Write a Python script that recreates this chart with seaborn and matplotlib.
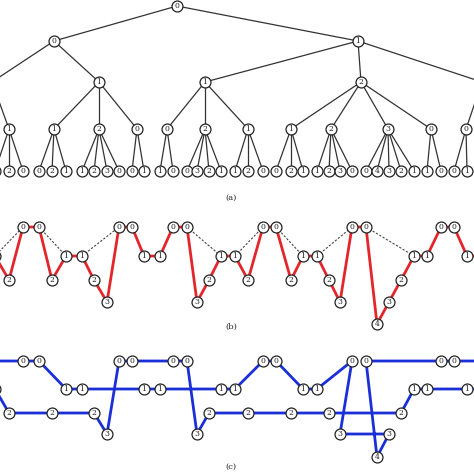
import numpy as np
import pandas as pd
import seaborn as sns
import matplotlib.pyplot as plt

# leaf sequence (shared by the tree leaves and panels b, c)
leaf_x = [-18, -5, 9, 23, 39, 52, 66, 82, 94, 107, 119, 132, 144, 160, 173, 187, 197, 209, 221,
          235, 248, 263, 276, 291, 303, 317, 329, 340, 352, 366, 377, 389, 401, 414, 427,
          441, 454, 467, 481, 492]
leaf_lab = [0, 1, 2, 0, 0, 2, 1, 1, 2, 3, 0, 0, 1, 1, 0, 0, 3, 2, 1,
            1, 2, 0, 0, 2, 1, 1, 2, 3, 0, 0, 4, 3, 2, 1, 1,
            0, 0, 1, 1, 0]

# level-3 nodes and their leaf groups (indices into leaf lists)
l3_x = [9, 54, 99, 137, 167, 205, 248, 291, 331, 388, 431, 466]
l3_lab = [1, 1, 2, 0, 0, 2, 1, 1, 2, 3, 0, 0]
l3_groups = [[1, 2, 3], [4, 5, 6], [7, 8, 9, 10], [11, 12], [13, 14], [15, 16, 17, 18],
             [19, 20, 21], [22, 23, 24], [25, 26, 27, 28], [29, 30, 31, 32, 33], [34, 35], [36, 37]]

# level-2 nodes
l2_x = [-8, 99, 205, 361, 482]
l2_lab = [1, 1, 1, 2, 0]
l2_groups = [[0], [1, 2, 3], [4, 5, 6], [7, 8, 9, 10], [11]]

# level-1 nodes and root
l1_x = [54, 358]
l1_lab = [0, 1]
l1_groups = [[0, 1], [2, 3, 4]]
root_x, root_lab = 177, 0

# panel (c): two chains through the leaf sequence
chain_a = [0, 3, 4, 6, 7, 12, 13, 18, 19, 21, 22, 24, 25, 28, 27, 31, 30, 29, 35, 36, 39]
chain_b = [1, 2, 5, 8, 9, 10, 11, 14, 15, 16, 17, 20, 23, 26, 32, 33, 34, 37, 38]

Y_TREE = [6, 41, 82, 129, 171]
Y_B = [227, 256, 280, 302, 324]
Y_C = [361, 389, 413, 434, 457]

sns.set_style('white')
fig = plt.figure(figsize=(4.74, 4.74), dpi=100)
ax = fig.add_axes([0, 0, 1, 1])
ax.set_xlim(0, 474)
ax.set_ylim(474, 0)
ax.axis('off')

tree_kw = dict(color='#333333', lw=0.9, zorder=1)
# tree edges
for xi, (px, grp) in enumerate(zip(l1_x, l1_groups)):
    ax.plot([root_x, px], [Y_TREE[0], Y_TREE[1]], **tree_kw)
    for g in grp:
        ax.plot([px, l2_x[g]], [Y_TREE[1], Y_TREE[2]], **tree_kw)
for px, grp in zip(l2_x, l2_groups):
    for g in grp:
        ax.plot([px, l3_x[g]], [Y_TREE[2], Y_TREE[3]], **tree_kw)
for px, grp in zip(l3_x, l3_groups):
    for g in grp:
        ax.plot([px, leaf_x[g]], [Y_TREE[3], Y_TREE[4]], **tree_kw)

nodes = []
nodes.append((root_x, Y_TREE[0], root_lab))
nodes += [(x, Y_TREE[1], l) for x, l in zip(l1_x, l1_lab)]
nodes += [(x, Y_TREE[2], l) for x, l in zip(l2_x, l2_lab)]
nodes += [(x, Y_TREE[3], l) for x, l in zip(l3_x, l3_lab)]
nodes += [(x, Y_TREE[4], l) for x, l in zip(leaf_x, leaf_lab)]

# panel (b)
yb = [Y_B[l] for l in leaf_lab]
for grp in l3_groups:
    if len(grp) > 2:
        ax.plot([leaf_x[grp[0]], leaf_x[grp[-1]]], [yb[grp[0]], yb[grp[-1]]],
                color='#444444', lw=0.8, ls=(0, (2, 1.5)), zorder=1)
ax.plot(leaf_x, yb, color='#e3262b', lw=2.0, zorder=2)
nodes += [(x, y, l) for x, y, l in zip(leaf_x, yb, leaf_lab)]

# panel (c)
yc = [Y_C[l] for l in leaf_lab]
for ch in (chain_a, chain_b):
    ax.plot([leaf_x[i] for i in ch], [yc[i] for i in ch], color='#1a2fd6', lw=2.0, zorder=2)
nodes += [(x, y, l) for x, y, l in zip(leaf_x, yc, leaf_lab)]

df = pd.DataFrame(nodes, columns=['x', 'y', 'lab'])
sns.scatterplot(data=df, x='x', y='y', s=62, color='white', edgecolor='#222222',
                linewidth=0.9, zorder=3, ax=ax, legend=False)
for x, y, l in nodes:
    ax.text(x, y + 0.3, str(l), ha='center', va='center', fontsize=5.5,
            family='DejaVu Serif', color='#222222', zorder=4)
ax.set_xlim(0, 474)
ax.set_ylim(474, 0)
ax.axis('off')

for lab, y in [('(a)', 198), ('(b)', 327), ('(c)', 467)]:
    ax.text(231, y, lab, ha='center', va='center', fontsize=6, family='DejaVu Serif')

fig.savefig('out.png', dpi=100)
